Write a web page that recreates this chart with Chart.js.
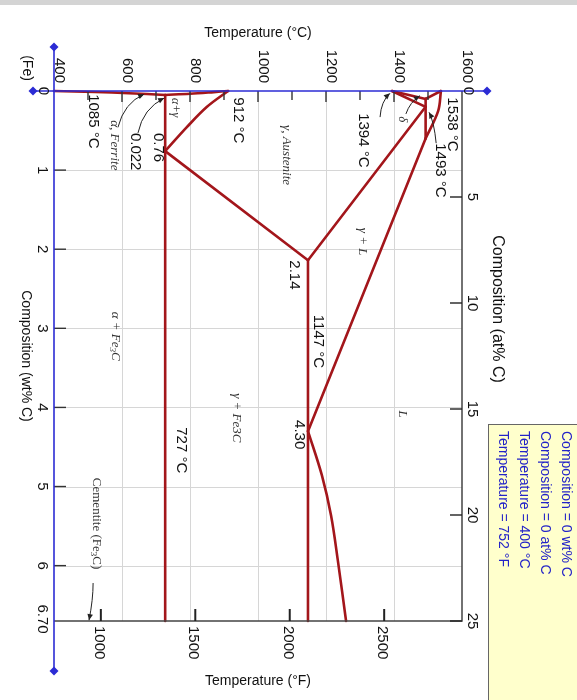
<!DOCTYPE html>
<html><head><meta charset="utf-8">
<script src="https://cdn.jsdelivr.net/npm/chart.js@4"></script>
<style>html,body{margin:0;padding:0;background:#fff}canvas{display:block}</style>
</head><body>
<canvas id="c" width="577" height="700"></canvas>
<script>
// ---- Axis ticks ----
const tempMajorC = [400, 600, 800, 1000, 1200, 1400, 1600];
const tempMinorC = [500, 700, 900, 1100, 1300, 1500];
const gridTempC = [600, 800, 1000, 1200, 1400];
const wtTicks = [1, 2, 3, 4, 5, 6];
const wtTickLabels = ['1', '2', '3', '4', '5', '6'];
const wtEndLabels = ['0', '6.70'];
const atTicks = [5, 10, 15, 20, 25];
const atTickLabels = ['5', '10', '15', '20', '25'];
const fTicks = [1000, 1500, 2000, 2500];
const WT_MAX = 6.70, AT_MAX = 25, T_MIN = 400, T_MAX = 1600;

// ---- Phase boundaries: [temperature °C, composition wt% C] ----
const ferriteSolvus   = [[400, 0.0], [520, 0.012], [620, 0.028], [727, 0.05]];
const ferriteA3       = [[727, 0.05], [800, 0.035], [870, 0.014], [912, 0]];
const austeniteA3     = [[912, 0], [850, 0.2], [790, 0.46], [727, 0.76]];
const acmLine         = [[727, 0.76], [1147, 2.14]];
const eutectoidLine   = [[727, 0.05], [727, 6.70]];
const eutecticLine    = [[1147, 2.14], [1147, 6.70]];
const solidusGamma    = [[1493, 0.2], [1147, 2.14]];
const liquidusTop     = [[1538, 0], [1530, 0.25], [1493, 0.6]];
const liquidusHypo    = [[1493, 0.6], [1147, 4.30]];
const liquidusHyper   = [[1147, 4.30], [1188, 4.86], [1215, 5.37], [1235, 5.94], [1259, 6.70]];
const deltaSolidus    = [[1538, 0], [1493, 0.1]];
const deltaGammaUpper = [[1394, 0], [1493, 0.1]];
const deltaGammaLower = [[1394, 0], [1493, 0.2]];
const peritecticLine  = [[1493, 0.1], [1493, 0.6]];

const straightSets = [acmLine, eutectoidLine, eutecticLine, solidusGamma, liquidusHypo,
  deltaSolidus, deltaGammaUpper, deltaGammaLower, peritecticLine];
const curvedSets = [ferriteSolvus, ferriteA3, austeniteA3, liquidusTop, liquidusHyper];

// ---- Annotation texts ----
const infoLines = ['Composition = 0 wt% C', 'Composition = 0 at% C', 'Temperature = 400 °C', 'Temperature = 752 °F'];

const RED = '#a3161b';
const BLUE = '#2b2bd4';

function mk(arr, tension) {
  return { data: arr.map(([T, w]) => ({ x: T, y: w })), showLine: true, borderColor: RED,
    borderWidth: 2.6, pointRadius: 0, tension: tension, clip: false, fill: false, borderCapStyle: 'round' };
}
const datasets = [...straightSets.map(a => mk(a, 0)), ...curvedSets.map(a => mk(a, 0.35))];

function rt(ctx, text, x, y, font, color, align) {
  ctx.save(); ctx.translate(x, y); ctx.rotate(Math.PI / 2);
  ctx.font = font; ctx.fillStyle = color; ctx.textAlign = align || 'left'; ctx.textBaseline = 'middle';
  ctx.fillText(text, 0, 0); ctx.restore();
}
function rtRich(ctx, parts, x, y, size, family, style, color) {
  ctx.save(); ctx.translate(x, y); ctx.rotate(Math.PI / 2);
  ctx.fillStyle = color; ctx.textAlign = 'left'; ctx.textBaseline = 'middle';
  let cx = 0;
  for (const [t, sub] of parts) {
    const s = sub ? Math.round(size * 0.7) : size;
    ctx.font = style + ' ' + s + 'px ' + family;
    ctx.fillText(t, cx, sub ? size * 0.3 : 0);
    cx += ctx.measureText(t).width;
  }
  ctx.restore();
}
function diamond(ctx, x, y, r) {
  ctx.beginPath(); ctx.moveTo(x, y - r); ctx.lineTo(x + r, y); ctx.lineTo(x, y + r); ctx.lineTo(x - r, y);
  ctx.closePath(); ctx.fill();
}
function arrow(ctx, s, c, e) {
  ctx.save(); ctx.strokeStyle = '#222'; ctx.fillStyle = '#222'; ctx.lineWidth = 1;
  ctx.beginPath(); ctx.moveTo(s[0], s[1]); ctx.quadraticCurveTo(c[0], c[1], e[0], e[1]); ctx.stroke();
  const a = Math.atan2(e[1] - c[1], e[0] - c[0]);
  const L = 6, W = 2.8;
  ctx.beginPath(); ctx.moveTo(e[0], e[1]);
  ctx.lineTo(e[0] - L * Math.cos(a) + W * Math.sin(a), e[1] - L * Math.sin(a) - W * Math.cos(a));
  ctx.lineTo(e[0] - L * Math.cos(a) - W * Math.sin(a), e[1] - L * Math.sin(a) + W * Math.cos(a));
  ctx.closePath(); ctx.fill(); ctx.restore();
}

const SANS = '"Liberation Sans", Arial, sans-serif';
const SERIF = '"Liberation Serif", "Times New Roman", serif';

const phasePlugin = {
  id: 'phase',
  beforeDatasetsDraw(chart) {
    const ctx = chart.ctx, X = chart.scales.x, Y = chart.scales.y;
    const px = T => X.getPixelForValue(T), py = w => Y.getPixelForValue(w);
    ctx.save();
    ctx.fillStyle = '#d4d4d4'; ctx.fillRect(0, 0, chart.width, 5);
    ctx.strokeStyle = '#d6d6d6'; ctx.lineWidth = 1;
    gridTempC.forEach(T => { const x = Math.round(px(T)) + 0.5; ctx.beginPath(); ctx.moveTo(x, py(0)); ctx.lineTo(x, py(WT_MAX)); ctx.stroke(); });
    wtTicks.forEach(w => { const y = Math.round(py(w)) + 0.5; ctx.beginPath(); ctx.moveTo(px(T_MIN), y); ctx.lineTo(px(T_MAX), y); ctx.stroke(); });
    ctx.restore();
  },
  afterDatasetsDraw(chart) {
    const ctx = chart.ctx, X = chart.scales.x, Y = chart.scales.y;
    const px = T => X.getPixelForValue(T), py = w => Y.getPixelForValue(w);
    const P = (T, w) => [px(T), py(w)];
    const x0 = px(T_MIN), x1 = px(T_MAX), y0 = py(0), y1 = py(WT_MAX);
    ctx.save();
    ctx.strokeStyle = '#444'; ctx.lineWidth = 1.5;
    ctx.beginPath(); ctx.moveTo(x1, y0); ctx.lineTo(x1, y1); ctx.lineTo(x0, y1); ctx.stroke();
    ctx.strokeStyle = '#222'; ctx.lineWidth = 1.4;
    atTicks.forEach(a => { const y = py(a * WT_MAX / AT_MAX); ctx.beginPath(); ctx.moveTo(x1 - 12, y); ctx.lineTo(x1, y); ctx.stroke(); });
    ctx.lineWidth = 2;
    fTicks.forEach(F => { const x = px((F - 32) * 5 / 9); ctx.beginPath(); ctx.moveTo(x, y1 - 12); ctx.lineTo(x, y1); ctx.stroke(); });
    ctx.lineWidth = 1.4; ctx.strokeStyle = '#333';
    wtTicks.forEach(w => { const y = py(w); ctx.beginPath(); ctx.moveTo(x0, y); ctx.lineTo(x0 + 12, y); ctx.stroke(); });
    tempMajorC.slice(1, -1).forEach(T => { const x = px(T); ctx.beginPath(); ctx.moveTo(x, y0); ctx.lineTo(x, y0 + 11); ctx.stroke(); });
    tempMinorC.forEach(T => { const x = px(T); ctx.beginPath(); ctx.moveTo(x, y0); ctx.lineTo(x, y0 + 9); ctx.stroke(); });
    ctx.strokeStyle = BLUE; ctx.fillStyle = BLUE; ctx.lineWidth = 1.6;
    ctx.beginPath(); ctx.moveTo(x0 - 21, y0); ctx.lineTo(x1 + 25, y0); ctx.stroke();
    ctx.beginPath(); ctx.moveTo(x0, y0 - 44); ctx.lineTo(x0, y1 + 50); ctx.stroke();
    diamond(ctx, x0 - 21, y0, 4.5); diamond(ctx, x1 + 25, y0, 4.5);
    diamond(ctx, x0, y0 - 44, 4.5); diamond(ctx, x0, y1 + 50, 4.5);

    const F15 = '15px ' + SANS;
    tempMajorC.forEach(T => rt(ctx, String(T), px(T) + 5, y0 - 8, F15, '#111', 'right'));
    wtTicks.forEach((w, i) => rt(ctx, wtTickLabels[i], x0 - 12, py(w), F15, '#111', 'center'));
    rt(ctx, wtEndLabels[0], x0 - 11, y0, F15, '#111', 'center');
    rt(ctx, wtEndLabels[1], x0 - 12, y1 - 2, F15, '#111', 'center');
    atTicks.forEach((a, i) => rt(ctx, atTickLabels[i], x1 + 10, py(a * WT_MAX / AT_MAX), F15, '#111', 'center'));
    rt(ctx, '0', x1 + 6, y0, F15, '#111', 'center');
    fTicks.forEach(F => rt(ctx, String(F), px((F - 32) * 5 / 9) - 2, y1 + 5, F15, '#111', 'left'));

    ctx.font = '14px ' + SANS; ctx.fillStyle = '#111'; ctx.textAlign = 'center'; ctx.textBaseline = 'middle';
    ctx.fillText('Temperature (°C)', (x0 + x1) / 2, 33);
    ctx.fillText('Temperature (°F)', (x0 + x1) / 2, 681);
    rt(ctx, 'Composition (wt% C)', 26, (y0 + y1) / 2, '14px ' + SANS, '#111', 'center');
    rt(ctx, 'Composition (at% C)', 497, 309, '16px ' + SANS, '#111', 'center');
    rt(ctx, '(Fe)', 27, 68, '14px ' + SANS, '#111', 'center');

    ctx.fillStyle = '#ffffcc'; ctx.fillRect(488, 424, 100, 290);
    ctx.strokeStyle = '#666'; ctx.lineWidth = 1; ctx.strokeRect(488.5, 424.5, 100, 290);
    infoLines.forEach((t, i) => rt(ctx, t, 566 - i * 21, 431, '14px ' + SANS, '#2323c8', 'left'));

    const L = (t, T, w, align) => { const p = P(T, w); rt(ctx, t, p[0], p[1], F15, '#111', align || 'left'); };
    L('912 °C', 941, 0.08);
    L('1085 °C', 515, 0.04);
    L('0.76', 706, 0.53);
    L('0.022', 638, 0.53);
    L('1394 °C', 1309, 0.28);
    L('1538 °C', 1571, 0.08);
    L('1493 °C', 1535, 0.66);
    L('2.14', 1106, 2.14);
    L('1147 °C', 1176, 2.83);
    L('4.30', 1121, 4.16);
    L('727 °C', 774, 4.25);

    const S = (parts, T, w, style, size) => { const p = P(T, w); rtRich(ctx, parts, p[0], p[1], size || 13, SERIF, style, '#333'); };
    S([['α, Ferrite', false]], 579, 0.37, 'italic');
    S([['α+γ', false]], 756, 0.09, 'italic', 12);
    S([['γ, Austenite', false]], 1085, 0.43, 'italic');
    S([['δ', false]], 1424, 0.32, 'italic');
    S([['γ + L', false]], 1306, 1.73, 'italic');
    S([['L', false]], 1426, 4.04, 'italic');
    S([['γ + Fe3C', false]], 938, 3.82, 'italic');
    S([['α + Fe', false], ['3', true], ['C', false]], 582, 2.79, 'italic');
    S([['Cementite (Fe', false], ['3', true], ['C)', false]], 526, 4.89, 'normal');

    arrow(ctx, P(588, 0.46), P(606, 0.15), P(665, 0.04));
    arrow(ctx, P(647, 0.53), P(662, 0.22), P(724, 0.09));
    arrow(ctx, P(1359, 0.33), P(1362, 0.13), P(1388, 0.03));
    arrow(ctx, P(1435, 0.29), P(1447, 0.14), P(1476, 0.06));
    arrow(ctx, P(1524, 0.66), P(1518, 0.39), P(1503, 0.27));
    arrow(ctx, P(515, 6.22), P(515, 6.43), P(503, 6.69));
    ctx.restore();
  }
};

new Chart(document.getElementById('c'), {
  type: 'scatter',
  data: { datasets },
  options: {
    responsive: false, animation: false, events: [],
    layout: { padding: { left: 54, top: 91, right: 115, bottom: 79 } },
    scales: {
      x: { type: 'linear', min: T_MIN, max: T_MAX, display: false },
      y: { type: 'linear', min: 0, max: WT_MAX, reverse: true, display: false }
    },
    plugins: { legend: { display: false }, tooltip: { enabled: false } },
    elements: { point: { radius: 0 } }
  },
  plugins: [phasePlugin]
});
</script>
</body></html>
